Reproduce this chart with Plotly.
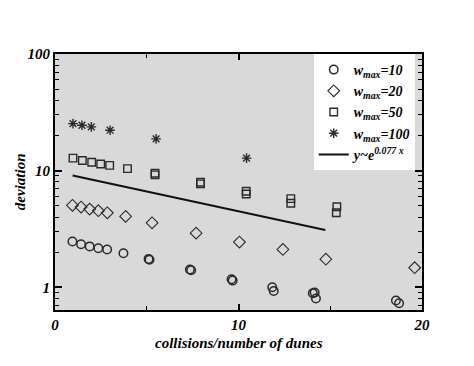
import plotly.graph_objects as go

# --- data ---
x_w10 = [0.95, 1.42, 1.89, 2.36, 2.84, 3.73, 5.10, 5.15, 7.35, 7.42, 9.62, 9.68, 11.84, 11.92, 14.05, 14.22, 14.15, 18.58, 18.75]
y_w10 = [2.47, 2.34, 2.24, 2.16, 2.11, 1.96, 1.75, 1.72, 1.42, 1.40, 1.17, 1.14, 1.00, 0.93, 0.89, 0.80, 0.90, 0.77, 0.73]

x_w20 = [0.95, 1.42, 1.89, 2.36, 2.85, 3.85, 5.29, 7.69, 10.05, 12.42, 14.76, 19.60]
y_w20 = [5.04, 4.87, 4.68, 4.53, 4.35, 4.05, 3.57, 2.91, 2.44, 2.11, 1.74, 1.47]

x_w50 = [0.98, 1.49, 2.00, 2.49, 2.98, 3.95, 5.45, 5.45, 7.93, 7.93, 10.42, 10.42, 12.85, 12.85, 15.36, 15.33]
y_w50 = [12.8, 12.2, 11.8, 11.4, 11.1, 10.4, 9.5, 9.2, 7.95, 7.7, 6.65, 6.3, 5.75, 5.25, 4.9, 4.35]

x_w100 = [0.98, 1.47, 1.98, 3.00, 5.51, 10.44]
y_w100 = [25.3, 24.5, 23.7, 22.2, 18.7, 12.8]

x_fit = [0.96, 14.73]
y_fit = [9.1, 3.1]

x_ticks = [0, 10, 20]
y_ticks = [1, 10, 100]

names = ["<b><i>w<sub>max</sub>=10</i></b>", "<b><i>w<sub>max</sub>=20</i></b>",
         "<b><i>w<sub>max</sub>=50</i></b>", "<b><i>w<sub>max</sub>=100</i></b>",
         "<b><i>y~e<sup>0.077 x</sup></i></b>"]

x_title = "collisions/number of dunes"
y_title = "deviation"

FONT = "Liberation Serif"
mcol = "#2a2a2a"

fig = go.Figure()
fig.add_trace(go.Scatter(x=x_w10, y=y_w10, mode="markers", name=names[0],
                         marker=dict(symbol="circle-open", size=8.5, color=mcol, line=dict(width=1.5, color=mcol))))
fig.add_trace(go.Scatter(x=x_w20, y=y_w20, mode="markers", name=names[1],
                         marker=dict(symbol="diamond-open", size=9, color=mcol, line=dict(width=1.1, color=mcol))))
fig.add_trace(go.Scatter(x=x_w50, y=y_w50, mode="markers", name=names[2],
                         marker=dict(symbol="square-open", size=7.5, color=mcol, line=dict(width=1.4, color=mcol))))
fig.add_trace(go.Scatter(x=x_w100, y=y_w100, mode="markers", name=names[3],
                         marker=dict(symbol="asterisk-open", size=8, color=mcol, line=dict(width=1.4, color=mcol))))
fig.add_trace(go.Scatter(x=x_fit, y=y_fit, mode="lines", name=names[4],
                         line=dict(color="#111111", width=2)))

font_bi = dict(family=FONT, size=15, color="black")

def bi(s):
    return "<b><i>" + str(s) + "</i></b>"

fig.update_layout(
    width=474, height=366,
    margin=dict(l=55, r=52, t=54, b=56),
    paper_bgcolor="white",
    plot_bgcolor="#d9d9d9",
    font=font_bi,
    showlegend=True,
    legend=dict(x=0.705, y=1.0, xanchor="left", yanchor="top",
                bgcolor="white", borderwidth=0,
                font=dict(family=FONT, size=14, color="black"),
                tracegroupgap=0, itemwidth=30),
    xaxis=dict(range=[0, 20], tickvals=x_ticks, ticktext=[bi(v) for v in x_ticks],
               showgrid=False, zeroline=False, automargin=False,
               showline=True, linecolor="black", linewidth=2, mirror="ticks",
               ticks="inside", ticklen=6, tickwidth=1.5, tickcolor="black",
               minor=dict(dtick=5, ticks="inside", ticklen=4, tickcolor="black", tickwidth=1),
               tickfont=font_bi),
    yaxis=dict(type="log", range=[-0.195, 2.0], tickvals=y_ticks, ticktext=[bi(v) for v in y_ticks],
               showgrid=False, zeroline=False, automargin=False,
               showline=True, linecolor="black", linewidth=2, mirror="ticks",
               ticks="inside", ticklen=7, tickwidth=1.5, tickcolor="black",
               minor=dict(dtick="D1", ticks="inside", ticklen=4, tickcolor="black", tickwidth=1, showgrid=False),
               tickfont=font_bi),
    annotations=[
        dict(text=bi(x_title), xref="paper", yref="paper", x=0.5, y=-0.128,
             xanchor="center", yanchor="middle", showarrow=False, font=font_bi),
        dict(text=bi(y_title), xref="paper", yref="paper", x=-0.095, y=0.5,
             xanchor="center", yanchor="middle", showarrow=False, textangle=-90, font=font_bi),
    ],
)

fig.write_html("out.html", config={"displayModeBar": False},
               post_script="document.body.style.margin='0px';")
